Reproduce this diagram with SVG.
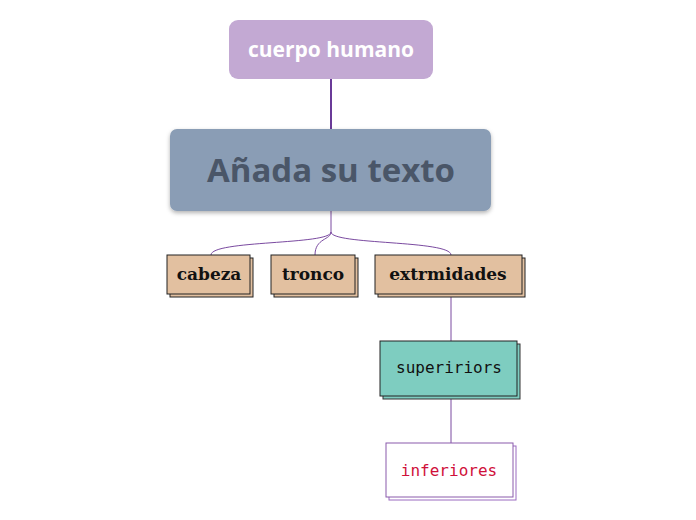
<svg xmlns="http://www.w3.org/2000/svg" width="696" height="520" viewBox="0 0 696 520">
<style>
.c{fill:none;stroke:#7a4aa0;stroke-width:1}
.b{fill:#e2c0a0;stroke:#222;stroke-width:1}
.sh{fill:#e2c0a0;stroke:#222;stroke-width:1}
.bt{font-family:"DejaVu Serif",serif;font-weight:bold;font-size:17px;fill:#111;text-anchor:middle}
.mt{font-family:"DejaVu Sans Mono",monospace;font-size:16px;text-anchor:middle}
</style>
<defs><filter id="ds" x="-10%" y="-10%" width="120%" height="130%"><feDropShadow dx="0" dy="2" stdDeviation="2" flood-opacity="0.3"/></filter></defs>
<rect width="696" height="520" fill="#fff"/>
<g id="connectors">
<path d="M331,79 L331,129" stroke="#6a3a98" stroke-width="2" fill="none"/>
<path class="c" d="M331,211 V232 C331,245 211,240 211,255"/>
<path class="c" d="M331,232 C331,240 315,238 315,255"/>
<path class="c" d="M331,232 C331,245 451,240 451,255"/>
<path class="c" d="M451,297 V341 M451,396 V443" stroke="#a888c8"/>
</g>
<g id="n1"><rect x="229" y="20" width="204" height="59" rx="9" fill="#c3a9d3"/><text x="331" y="57" text-anchor="middle" font-family="'Open Sans',sans-serif" font-weight="bold" font-size="21" fill="#fff">cuerpo humano</text></g>
<g id="n2"><rect x="170" y="129" width="321" height="82" rx="7" fill="#8a9db5" filter="url(#ds)"/><text x="331" y="182" text-anchor="middle" font-family="'Open Sans',sans-serif" font-weight="bold" font-size="33" fill="#4a5668">Añada su texto</text></g>
<g id="n3"><rect class="sh" x="170" y="258" width="83" height="39"/><rect class="b" x="167" y="255" width="83" height="39"/><text class="bt" x="209" y="280">cabeza</text></g>
<g id="n4"><rect class="sh" x="274" y="258" width="84" height="39"/><rect class="b" x="271" y="255" width="84" height="39"/><text class="bt" x="313" y="280">tronco</text></g>
<g id="n5"><rect class="sh" x="378" y="258" width="147" height="39"/><rect class="b" x="375" y="255" width="147" height="39"/><text class="bt" x="448" y="280">extrmidades</text></g>
<g id="n6"><rect x="383" y="344" width="137" height="55" fill="#7ecdc0" stroke="#333"/><rect x="380" y="341" width="137" height="55" fill="#7ecdc0" stroke="#222"/><text class="mt" x="449" y="373" fill="#111">supeririors</text></g>
<g id="n7"><rect x="389" y="446" width="127" height="54" fill="#fff" stroke="#9a6ac0"/><rect x="386" y="443" width="127" height="54" fill="#fff" stroke="#8a5aab"/><text class="mt" x="449" y="476" fill="#d0103a">inferiores</text></g>
</svg>
